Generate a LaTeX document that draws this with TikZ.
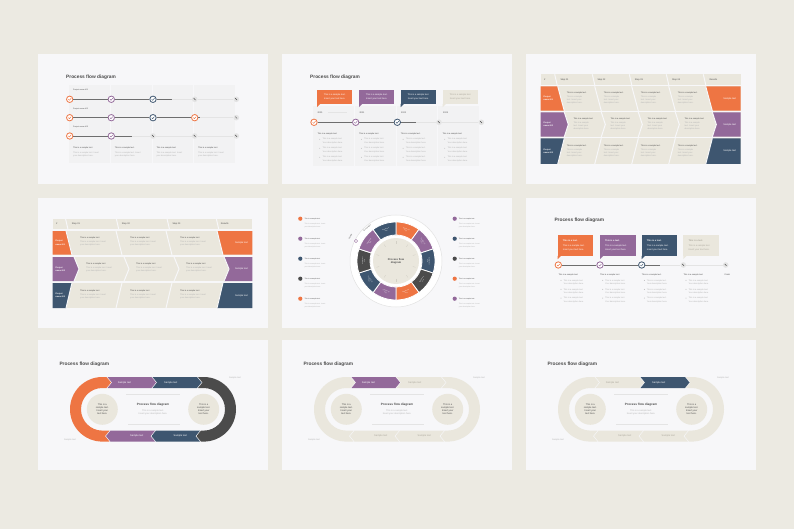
\documentclass[tikz,border=0pt]{standalone}
\usepackage{fontspec}
\setmainfont{Liberation Sans}
\definecolor{bgc}{HTML}{ECEAE2}
\definecolor{slidebg}{HTML}{F7F7F9}
\definecolor{orng}{HTML}{EE7543}
\definecolor{purp}{HTML}{93699A}
\definecolor{navy}{HTML}{3E5670}
\definecolor{dgry}{HTML}{4B4B4B}
\definecolor{beig}{HTML}{EAE7DD}
\definecolor{band}{HTML}{F2F2F3}
\definecolor{tdark}{HTML}{4A4A4A}
\definecolor{tgray}{HTML}{B4B4B4}
\definecolor{tbeig}{HTML}{ADA99E}
\definecolor{gicn}{HTML}{E3E3E3}
\definecolor{lnlight}{HTML}{E4E4E4}
\definecolor{lndark}{HTML}{6E6E6E}
\definecolor{ringc}{HTML}{E2E2E2}
\definecolor{tickc}{HTML}{D3D0C6}
\newcommand\chkmark[3]{\draw[#1,line width=0.45pt,line cap=round,line join=round] ({#2-1.3},{#3}) -- ({#2-0.3},{#3+1}) -- ({#2+1.4},{#3-1});}
\newcommand\penmark[2]{\draw[tdark,line width=0.5pt,line cap=round] ({#1-0.9},{#2-0.9}) -- ({#1+0.7},{#2+0.7});}
\tikzset{
 ttl/.style={anchor=west,inner sep=0pt,font=\fontsize{4.8}{5}\selectfont\bfseries,text=tdark},
 btx/.style={anchor=west,inner sep=0pt,font=\fontsize{2.1}{2.5}\selectfont,text=tdark},
 gtx/.style={anchor=north west,inner sep=0pt,align=left,font=\fontsize{2.1}{3.3}\selectfont,text=tgray},
 gtx3/.style={anchor=north west,inner sep=0pt,align=left,font=\fontsize{2.1}{3.0}\selectfont,text=tgray},
 gtx4/.style={anchor=north west,inner sep=0pt,align=left,font=\fontsize{2.1}{3.6}\selectfont,text=tgray},
 htx/.style={anchor=west,inner sep=0pt,font=\fontsize{2.3}{2.5}\selectfont,text=tdark},
 ctx/.style={align=center,inner sep=0pt,font=\fontsize{2.3}{3.2}\selectfont},
 ytx/.style={anchor=west,inner sep=0pt,font=\fontsize{2.2}{2.5}\selectfont,text=tdark},
 wtx/.style={anchor=west,align=left,inner sep=0pt,font=\fontsize{2.1}{3.3}\selectfont\bfseries,text=white},
 rtx/.style={anchor=east,inner sep=0pt,font=\fontsize{2.4}{2.6}\selectfont,text=white},
 cicon/.style={circle,draw=#1,fill=white,line width=0.8pt,minimum size=6.4pt,inner sep=0pt},
 gicon/.style={circle,fill=gicn,minimum size=5.6pt,inner sep=0pt},
 dline/.style={draw=lndark,line width=0.6pt},
 lline/.style={draw=lnlight,line width=0.6pt},
 sepl/.style={draw=slidebg,line width=1pt},
 atx/.style={inner sep=0pt,font=\fontsize{2.5}{2.7}\selectfont},
 ccirc/.style={circle,fill=beig,minimum size=31pt,inner sep=0pt,align=center,font=\fontsize{2.4}{2.9}\selectfont,text=tdark},
 ctitle/.style={inner sep=0pt,font=\fontsize{3.1}{3.4}\selectfont\bfseries,text=tdark},
 cgray/.style={inner sep=0pt,align=center,font=\fontsize{2.3}{3.3}\selectfont,text=tgray},
 stx/.style={inner sep=0pt,font=\fontsize{2.2}{2.4}\selectfont,text=tgray},
 faint/.style={draw=lnlight,line width=0.4pt},
 segtx/.style={inner sep=0pt,align=center,font=\fontsize{1.35}{1.8}\selectfont,text=white},
 ltx/.style={anchor=west,inner sep=0pt,font=\fontsize{1.7}{2}\selectfont,text=tdark},
 lgtx/.style={anchor=north west,inner sep=0pt,align=left,font=\fontsize{1.7}{3.2}\selectfont,text=tgray},
 ldot/.style={circle,fill=#1,minimum size=4.2pt,inner sep=0pt},
 cbold/.style={anchor=west,inner sep=0pt,font=\fontsize{2.3}{2.5}\selectfont\bfseries},
 ctx6/.style={anchor=north west,inner sep=0pt,align=left,font=\fontsize{2.3}{4}\selectfont},
}
\newcommand\loopslide[2]{%
\begin{scope}[shift={(#1,340)}]
\fill[slidebg] (0,0) rectangle (230,130);
\node[ttl] (#2-title) at (21.3,24) {Process flow diagram};
\fill[\cL] (68.5,37) -- (73,42.5) -- (68.5,48) -- (64.3,48) arc[start angle=-90,end angle=-270,radius=21.3] -- (71.5,90.6) -- (67,96.1) -- (71.5,101.6) -- (64.3,101.6) arc[start angle=-270,end angle=-90,radius=32.3] -- cycle;
\fill[\cR] (160,37) -- (164.5,42.5) -- (160,48) -- (165.7,48) arc[start angle=-90,end angle=90,radius=21.3] -- (163,90.6) -- (158.5,96.1) -- (163,101.6) -- (165.7,101.6) arc[start angle=90,end angle=-90,radius=32.3] -- cycle;
\fill[\cA] (69.5,37) -- (113.5,37) -- (118,42.5) -- (113.5,48) -- (69.5,48) -- (74,42.5) -- cycle;
\fill[\cB] (114.5,37) -- (159,37) -- (163.5,42.5) -- (159,48) -- (114.5,48) -- (119,42.5) -- cycle;
\fill[\cC] (72.5,90.6) -- (117,90.6) -- (112.5,96.1) -- (117,101.6) -- (72.5,101.6) -- (68,96.1) -- cycle;
\fill[\cD] (118,90.6) -- (162,90.6) -- (157.5,96.1) -- (162,101.6) -- (118,101.6) -- (113.5,96.1) -- cycle;
\node[atx,text=\tA] (#2-a) at (86.5,42.5) {Sample text};
\node[atx,text=\tB] (#2-b) at (132.8,42.5) {Sample text};
\node[atx,text=\tC] (#2-c) at (98.8,96.1) {Sample text};
\node[atx,text=\tD] (#2-d) at (142.3,96.1) {Sample text};
\node[ccirc] (#2-l) at (64.3,69.3) {This is a\\sample text.\\Insert your\\text here.};
\node[ccirc] (#2-r) at (165.7,69.3) {This is a\\sample text.\\Insert your\\text here.};
\node[ctitle] (#2-m) at (115,65) {Process flow diagram};
\node[cgray] (#2-n) at (115,72.6) {This is a sample text.\\Insert your description here.};
\coordinate (#2-p1) at (88,54); \coordinate (#2-p2) at (142,54);
\coordinate (#2-q1) at (90,84.3); \coordinate (#2-q2) at (142,84.3);
\draw[faint] (#2-p1) -- (#2-p2);
\draw[faint] (#2-q1) -- (#2-q2);
\node[stx] (#2-s1) at (197,38.3) {Sample text};
\node[stx] (#2-s2) at (32,100.3) {Sample text};
\end{scope}}
\begin{document}
\begin{tikzpicture}[x=1pt,y=-1pt]
\useasboundingbox (0,0) rectangle (794,529);
\fill[bgc] (0,0) rectangle (794,529);

% ---------- slide 1
\begin{scope}[shift={(38,54)}]
\fill[slidebg] (0,0) rectangle (230,130);
\node[ttl] (a-title) at (28,23.3) {Process flow diagram};
\foreach \x in {31.3,73,114.7,156.3} \fill[band] (\x,31) rectangle ++(40.7,78);
\foreach \rr/\y/\n/\m in {1/45.3/3/133.7,2/63.7/4/162,3/82/2/93.7}{
  \node[btx,font=\fontsize{1.9}{2}\selectfont] (a-p\rr) at (35,\y-9) {Project name \#0\rr};
  \foreach \cc/\x/\col in {1/31.7/orng,2/73.3/purp,3/115/navy,4/156.7/orng,5/198.3/orng}{
    \ifnum\cc>\n
      \node[gicon] (a-\rr-\cc) at (\x,\y) {};
      \penmark{\x}{\y}
    \else
      \node[cicon=\col] (a-\rr-\cc) at (\x,\y) {};
      \chkmark{\col}{\x}{\y}
    \fi
  }
  \coordinate (a-\rr-m) at (\m,\y);
  \foreach \cc in {1,2,3,4}{
    \pgfmathtruncatemacro\dd{\cc+1}
    \ifnum\dd>\n
      \ifnum\cc=\n
        \draw[dline] (a-\rr-\cc) -- (a-\rr-m);
        \draw[lline] (a-\rr-m) -- (a-\rr-\dd);
      \else
        \draw[lline] (a-\rr-\cc) -- (a-\rr-\dd);
      \fi
    \else
      \draw[dline] (a-\rr-\cc) -- (a-\rr-\dd);
    \fi
  }
}
\foreach \x [count=\i] in {35,76.7,118.3,160}{
  \node[btx] (a-b\i) at (\x,93.7) {This is a sample text.};
  \node[gtx] (a-g\i) at (\x,97.6) {This is a sample text. Insert\\your description here.};
}
\end{scope}

% ---------- slide 2
\begin{scope}[shift={(282,54)}]
\fill[slidebg] (0,0) rectangle (230,130);
\node[ttl] (b-title) at (28,23.3) {Process flow diagram};
\foreach \x in {31.3,73,114.7,156.3} \fill[band] (\x,52) rectangle ++(40.7,60);
\foreach \x/\col/\tc/\yr [count=\i] in {35/orng/white/2020,77/purp/white/2021,118.7/navy/white/2022,160.7/beig/tbeig/2023}{
  \fill[\col] (\x,35.7) rectangle ++(35.3,14.3);
  \fill[\col] (\x,49.9) -- (\x+3.2,49.9) -- (\x,53.2) -- cycle;
  \node[ctx,text=\tc] (b-c\i) at (\x+17.65,42.85) {This is a sample text.\\Insert your text here.};
  \node[ytx] (b-y\i) at (\x+0.3,58.7) {\yr};
}
\coordinate (b-yl1) at (46.3,58.7); \coordinate (b-yl2) at (64.7,58.7);
\draw[lline] (b-yl1) -- (b-yl2);
\foreach \x/\col [count=\i] in {32/orng,73.7/purp,115.3/navy}{
  \node[cicon=\col] (b-t\i) at (\x,68.3) {};
  \chkmark{\col}{\x}{68.3}
}
\foreach \x [count=\i from 4] in {157,199.3}{
  \node[gicon] (b-t\i) at (\x,68.3) {};
  \penmark{\x}{68.3}
}
\coordinate (b-tm) at (134,68.3);
\draw[dline] (b-t1) -- (b-t2);
\draw[dline] (b-t2) -- (b-t3);
\draw[dline] (b-t3) -- (b-tm);
\draw[lline] (b-tm) -- (b-t4);
\draw[lline] (b-t4) -- (b-t5);
\foreach \x [count=\i] in {35.3,77,118.7,160.3}{
  \node[btx] (b-h\i) at (\x,80.3) {This is a sample text.};
  \foreach \yy [count=\j] in {84.2,93.2,102.2}{
    \fill[tgray] (\x+2.4,\yy+1.1) circle[radius=0.45];
    \node[gtx] (b-l\i-\j) at (\x+5,\yy) {This is a sample text.\\Your description here.};
  }
}
\end{scope}

% ---------- slide 3
\begin{scope}[shift={(526,54)}]
\fill[slidebg] (0,0) rectangle (230,130);
\fill[beig] (14.7,20.5) rectangle (214.7,31);
\foreach \bb in {28.7,66.3,103.3,140.3,177.3} \draw[sepl] (\bb,20.3) -- (\bb+2.5,31.2);
\foreach \x/\lab [count=\i] in {18/\#,34.3/Step 01,71.3/Step 02,108.7/Step 03,146/Step 04,183.3/Results} \node[htx] (c-h\i) at (\x,25.7) {\lab};
\fill[beig] (14.7,32.5) rectangle (214.7,56.7);
\fill[beig] (14.7,58.3) rectangle (214.7,82.7);
\fill[beig] (14.7,84.5) rectangle (214.7,110);
\fill[orng] (14.7,32.5) -- (31.7,32.5) -- (38.3,56.7) -- (14.7,56.7) -- cycle;
\fill[orng] (179.7,32.5) -- (214.7,32.5) -- (214.7,56.7) -- (186.3,56.7) -- cycle;
\foreach \cc in {35,72,109,146,183} \draw[sepl] (\cc-3.3,32.3) -- (\cc+3.3,56.9);
\fill[purp] (14.7,58.3) -- (38.3,58.3) -- (42.3,70.5) -- (38.3,82.7) -- (14.7,82.7) -- cycle;
\fill[purp] (186.3,58.3) -- (214.7,58.3) -- (214.7,82.7) -- (186.3,82.7) -- (190.3,70.5) -- cycle;
\foreach \cc in {38.3,75.3,112.3,149.3,186.3} \draw[sepl] (\cc,58.1) -- (\cc+4,70.5) -- (\cc,82.9);
\fill[navy] (14.7,84.5) -- (38.3,84.5) -- (31.7,110) -- (14.7,110) -- cycle;
\fill[navy] (186.3,84.5) -- (214.7,84.5) -- (214.7,110) -- (179.7,110) -- cycle;
\foreach \cc in {35,72,109,146,183} \draw[sepl] (\cc+3.3,84.3) -- (\cc-3.3,110.2);
\foreach \cc [count=\i] in {35,72,109,146}{
  \node[btx] (c-r1t\i) at (\cc+5.7,39.3) {This is a sample text.};
  \node[gtx3] (c-r1g\i) at (\cc+5.7,41.9) {This is a sample\\text. Insert your\\description here.};
}
\foreach \cc [count=\i] in {38.3,75.3,112.3,149.3}{
  \node[btx] (c-r2t\i) at (\cc+9,65) {This is a sample text.};
  \node[gtx3] (c-r2g\i) at (\cc+9,67.6) {This is a sample\\text. Insert your\\description here.};
}
\foreach \cc [count=\i] in {35,72,109,146}{
  \node[btx] (c-r3t\i) at (\cc+5.7,92) {This is a sample text.};
  \node[gtx3] (c-r3g\i) at (\cc+5.7,94.4) {This is a sample\\text. Insert your\\description here.};
}
\node[wtx] (c-p1) at (17.3,44.6) {Project\\name \#01};
\node[wtx] (c-p2) at (17.3,70.5) {Project\\name \#02};
\node[wtx] (c-p3) at (17.3,97.3) {Project\\name \#03};
\node[rtx] (c-s1) at (210.3,44.6) {Sample text};
\node[rtx] (c-s2) at (210.3,70.5) {Sample text};
\node[rtx] (c-s3) at (210.3,97.3) {Sample text};
\end{scope}

% ---------- slide 4
\begin{scope}[shift={(38,198)}]
\fill[slidebg] (0,0) rectangle (230,130);
\fill[beig] (14.7,20.7) rectangle (214.3,31.3);
\foreach \bb in {27.5,78.3,129,178.3} \draw[sepl] (\bb,20.5) -- (\bb+2.5,31.5);
\foreach \x/\lab [count=\i] in {18/\#,33.7/Step 01,83.7/Step 02,134.3/Step 03,182.7/Results} \node[htx] (d-h\i) at (\x,26) {\lab};
\fill[beig] (14.7,33) rectangle (214.3,56.7);
\fill[beig] (14.7,59) rectangle (214.3,83);
\fill[beig] (14.7,85) rectangle (214.3,110);
\fill[orng] (14.7,33) -- (28,33) -- (34,56.7) -- (14.7,56.7) -- cycle;
\fill[orng] (179,33) -- (214.3,33) -- (214.3,56.7) -- (185,56.7) -- cycle;
\foreach \cc in {31,81,131,182} \draw[sepl] (\cc-3,32.8) -- (\cc+3,56.9);
\fill[purp] (14.7,59) -- (36,59) -- (41,71) -- (36,83) -- (14.7,83) -- cycle;
\fill[purp] (186,59) -- (214.3,59) -- (214.3,83) -- (186,83) -- (191,71) -- cycle;
\foreach \cc in {36,86,136,186} \draw[sepl] (\cc,58.8) -- (\cc+5,71) -- (\cc,83.2);
\fill[navy] (14.7,85) -- (34,85) -- (28,110) -- (14.7,110) -- cycle;
\fill[navy] (185,85) -- (214.3,85) -- (214.3,110) -- (179,110) -- cycle;
\foreach \cc in {31,81,131,182} \draw[sepl] (\cc+3,84.8) -- (\cc-3,110.2);
\foreach \cc [count=\i] in {31,81,131}{
  \node[btx] (d-r1t\i) at (\cc+11,40.3) {This is a sample text.};
  \node[gtx4] (d-r1g\i) at (\cc+11,42.6) {This is a sample text. Insert\\your description here.};
}
\foreach \cc [count=\i] in {36,86,136}{
  \node[btx] (d-r2t\i) at (\cc+12,66.3) {This is a sample text.};
  \node[gtx4] (d-r2g\i) at (\cc+12,68.6) {This is a sample text. Insert\\your description here.};
}
\foreach \cc [count=\i] in {31,81,131}{
  \node[btx] (d-r3t\i) at (\cc+11,93.3) {This is a sample text.};
  \node[gtx4] (d-r3g\i) at (\cc+11,95.6) {This is a sample text. Insert\\your description here.};
}
\node[wtx] (d-p1) at (17.3,44.8) {Project\\name \#01};
\node[wtx] (d-p2) at (17.3,71) {Project\\name \#02};
\node[wtx] (d-p3) at (17.3,97.5) {Project\\name \#03};
\node[rtx] (d-s1) at (210,44.8) {Sample text};
\node[rtx] (d-s2) at (210,71) {Sample text};
\node[rtx] (d-s3) at (210,97.5) {Sample text};
\end{scope}

% ---------- slide 5
\begin{scope}[shift={(282,198)}]
\fill[slidebg] (0,0) rectangle (230,130);
\begin{scope}[shift={(114,63)}]
\node[circle,fill=white,draw=ringc,line width=0.5pt,minimum size=92pt,inner sep=0pt] (e-ring) at (0,0) {};
\foreach \ang/\col/\rot [count=\i] in {-72/orng/-18,-36/purp/-54,0/navy/-90,36/dgry/54,72/orng/18,108/purp/-18,144/navy/-54,180/dgry/90,-144/purp/54,-108/navy/18}{
  \pgfmathsetmacro\sa{\ang-18}
  \pgfmathsetmacro\ea{\ang+18}
  \filldraw[fill=\col,draw=white,line width=0.8pt] (\sa:39) arc[start angle=\sa,end angle=\ea,radius=39] -- (\ea:26) arc[start angle=\ea,end angle=\sa,radius=26] -- cycle;
  \node[segtx,rotate=\rot] (e-s\i) at (\ang:32.5) {Sample text\\here};
}
\node[circle,fill=beig,minimum size=46pt,inner sep=0pt,align=center,font=\fontsize{2.6}{3.2}\selectfont\bfseries,text=tdark] (e-c) at (0,0) {Process flow\\diagram};
\foreach \ang in {18,54,...,342} \draw[tickc,line width=0.3pt] (\ang:17.5) -- (\ang:20.5);
\end{scope}
\node[inner sep=0pt,font=\fontsize{1.8}{2}\selectfont,text=tdark,rotate=40] (e-th) at (85,30) {Text Header};
\node[inner sep=0pt,font=\fontsize{1.8}{2}\selectfont,text=tdark,rotate=63] (e-sm) at (68.5,39) {Sample};
\node[circle,draw=purp,fill=white,line width=0.4pt,minimum size=3.2pt,inner sep=0pt] (e-sc) at (74,43) {};
\foreach \y/\col [count=\i] in {20.7/orng,40.7/purp,60.7/navy,80.7/dgry,100.7/orng}{
  \node[ldot=\col] (e-l\i) at (18.3,\y) {};
  \node[ltx] (e-lt\i) at (22.3,\y) {This is a sample text.};
  \node[lgtx] (e-lg\i) at (22.3,\y+4.6) {This is a sample text. Insert\\your description here.};
}
\foreach \y/\col [count=\i] in {20.7/purp,40.7/navy,60.7/dgry,80.7/orng,100.7/purp}{
  \node[ldot=\col] (e-r\i) at (172.7,\y) {};
  \node[ltx] (e-rt\i) at (176.7,\y) {This is a sample text.};
  \node[lgtx] (e-rg\i) at (176.7,\y+4.6) {This is a sample text. Insert\\your description here.};
}
\end{scope}

% ---------- slide 6
\begin{scope}[shift={(526,198)}]
\fill[slidebg] (0,0) rectangle (230,130);
\node[ttl] (f-title) at (28.3,22.3) {Process flow diagram};
\foreach \x/\col/\tc [count=\i] in {31.7/orng/white,74/purp/white,115.7/navy/white,157.3/beig/tbeig}{
  \fill[\col] (\x,37.3) rectangle ++(35.7,20.7);
  \fill[\col] (\x,57.9) -- (\x+3.2,57.9) -- (\x,61.2) -- cycle;
  \node[cbold,text=\tc] (f-a\i) at (\x+5,43) {This is a text.};
  \node[ctx6,text=\tc] (f-b\i) at (\x+5,46.9) {This is a sample text.\\Insert your text here.};
}
\foreach \x/\col [count=\i] in {32.3/orng,74/purp,115.7/navy}{
  \node[cicon=\col] (f-t\i) at (\x,67) {};
  \chkmark{\col}{\x}{67}
}
\foreach \x [count=\i from 4] in {157.3,199.7}{
  \node[gicon] (f-t\i) at (\x,67) {};
  \penmark{\x}{67}
}
\coordinate (f-tm) at (134,67);
\draw[dline] (f-t1) -- (f-t2);
\draw[dline] (f-t2) -- (f-t3);
\draw[dline] (f-t3) -- (f-tm);
\draw[lline] (f-tm) -- (f-t4);
\draw[lline] (f-t4) -- (f-t5);
\node[btx] (f-fin) at (198.3,77) {Finish};
\foreach \x [count=\i] in {32.3,74,115.7,157.3}{
  \node[btx] (f-h\i) at (\x,77) {This is a sample text.};
  \foreach \yy [count=\j] in {81.3,90.3,99}{
    \fill[tgray] (\x+2.7,\yy+1.1) circle[radius=0.45];
    \node[gtx] (f-l\i-\j) at (\x+5,\yy) {This is a sample text.\\Your description here.};
  }
}
\end{scope}

% ---------- slides 7, 8, 9
\def\cL{orng}\def\cR{dgry}\def\cA{purp}\def\cB{navy}\def\cC{purp}\def\cD{navy}
\def\tA{white}\def\tB{white}\def\tC{white}\def\tD{white}
\loopslide{38}{g}
\def\cL{beig}\def\cR{beig}\def\cA{purp}\def\cB{beig}\def\cC{beig}\def\cD{beig}
\def\tA{white}\def\tB{tbeig}\def\tC{tbeig}\def\tD{tbeig}
\loopslide{282}{h}
\def\cL{beig}\def\cR{beig}\def\cA{beig}\def\cB{navy}\def\cC{beig}\def\cD{beig}
\def\tA{tbeig}\def\tB{white}\def\tC{tbeig}\def\tD{tbeig}
\loopslide{526}{k}
\end{tikzpicture}
\end{document}
